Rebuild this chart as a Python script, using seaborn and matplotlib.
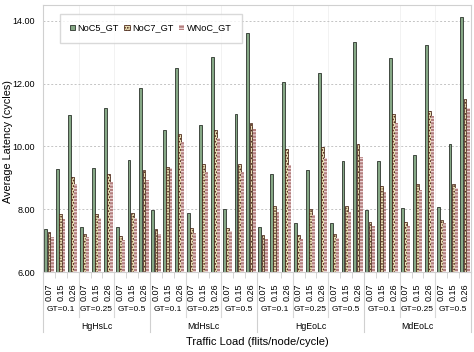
import matplotlib.pyplot as plt
import numpy as np
import pandas as pd
import seaborn as sns

# Categories (pattern -> GT -> load)
series = ["NoC5_GT", "NoC7_GT", "WNoC_GT"]
patterns = ["HgHsLc", "MdHsLc", "HgEoLc", "MdEoLc"]
gt_levels = ["GT=0.1", "GT=0.25", "GT=0.5"]
loads = ["0.07", "0.15", "0.26"]

# Average latency (cycles)
noc5 = [7.36, 9.28, 10.99, 7.42, 9.30, 11.23, 7.43, 9.55, 11.86,
        7.97, 10.51, 12.50, 7.87, 10.67, 12.86, 8.00, 11.04, 13.61,
        7.43, 9.13, 12.04, 7.55, 9.26, 12.35, 7.57, 9.54, 13.32,
        7.97, 9.54, 12.81, 8.03, 9.74, 13.24, 8.06, 10.07, 14.11]
noc7 = [7.26, 7.86, 9.04, 7.22, 7.86, 9.12, 7.14, 7.88, 9.24,
        7.36, 9.35, 10.38, 7.39, 9.45, 10.53, 7.39, 9.45, 10.75,
        7.17, 8.10, 9.90, 7.17, 7.99, 9.99, 7.20, 8.09, 10.08,
        7.60, 8.75, 11.04, 7.58, 8.79, 11.12, 7.65, 8.79, 11.50]
wnoc = [7.11, 7.68, 8.79, 7.10, 7.71, 8.85, 7.01, 7.72, 8.93,
        7.21, 9.31, 10.15, 7.23, 9.18, 10.28, 7.30, 9.18, 10.55,
        7.06, 7.90, 9.42, 7.06, 7.82, 9.63, 7.09, 7.90, 9.65,
        7.47, 8.56, 10.73, 7.46, 8.61, 10.97, 7.55, 8.67, 11.23]

cats = [f"{p}|{g}|{l}" for p in patterns for g in gt_levels for l in loads]
df = pd.DataFrame({
    "cat": cats * 3,
    "series": np.repeat(series, len(cats)),
    "latency": noc5 + noc7 + wnoc,
})

plt.rcParams["font.family"] = ["Liberation Sans", "DejaVu Sans"]
plt.rcParams["hatch.linewidth"] = 0.8

fig = plt.figure(figsize=(4.74, 3.52), dpi=100)
ax = fig.add_axes([43 / 474, 1 - 272 / 352, 428 / 474, 267 / 352])

sns.barplot(data=df, x="cat", y="latency", hue="series", order=cats,
            hue_order=series, errorbar=None, width=0.8, gap=0.12,
            legend=False, ax=ax)

styles = [
    dict(facecolor="#86a886", edgecolor="#2c332c", linewidth=0.6, hatch=None),
    dict(facecolor="#eadfb4", edgecolor="#3b1508", linewidth=0.5, hatch="......"),
    dict(facecolor="#b47f7f", edgecolor="#f0dede", linewidth=0.0, hatch="-----"),
]
for cont, st in zip(ax.containers, styles):
    for bar in cont:
        bar.set(**st)

ax.set_ylim(6, 14.5)
ax.set_xlim(-0.5, len(cats) - 0.5)
ax.set_yticks([6, 8, 10, 12, 14])
ax.set_yticklabels([f"{v:.2f}" for v in [6, 8, 10, 12, 14]], fontsize=6.5)
ax.tick_params(axis="y", length=0, pad=6)
ax.yaxis.grid(True, linestyle=(0, (2, 2)), color="#c4c4c4", linewidth=0.7)
ax.set_axisbelow(True)

for s in ax.spines.values():
    s.set_color("#d0d0d0")
    s.set_linewidth(0.8)

ax.set_xticks(range(len(cats)))
ax.set_xticklabels(loads * (len(cats) // 3), rotation=90, fontsize=6.5)
ax.tick_params(axis="x", which="major", length=0, pad=8)
ax.set_xticks(np.arange(-0.5, len(cats), 1), minor=True)
ax.tick_params(axis="x", which="minor", length=4, color="#d0d0d0")

trans = ax.get_xaxis_transform()
for i in range(len(cats) // 3 + 1):
    x = 3 * i - 0.5
    if i % 3 == 0:
        ax.plot([x, x], [0, -0.225], transform=trans, clip_on=False,
                color="#d0d0d0", linewidth=0.8)
    else:
        ax.plot([x, x], [0, -0.17], transform=trans, clip_on=False,
                color="#d8d8d8", linewidth=0.8)
        ax.plot([x, x], [0, 1], transform=trans, color="#f0f0f0",
                linewidth=0.6, zorder=0)

for gi, g in enumerate(gt_levels * len(patterns)):
    ax.text(3 * gi + 1, -0.142, g, transform=trans, ha="center", va="center",
            fontsize=6.0)
for pi, p in enumerate(patterns):
    ax.text(9 * pi + 4, -0.203, p, transform=trans, ha="center", va="center",
            fontsize=6.3)

ax.set_xlabel("Traffic Load (flits/node/cycle)", fontsize=8)
ax.xaxis.set_label_coords(0.5, -0.245)
ax.set_ylabel("Average Latency (cycles)", fontsize=7.8)
ax.yaxis.set_label_coords(-0.07, 0.49)

ax.legend(ax.containers, series, loc="upper left", ncol=3,
          bbox_to_anchor=(0.028, 0.985), fontsize=6.6, frameon=True,
          fancybox=False, edgecolor="#d0d0d0", handlelength=0.6,
          handleheight=0.6, handletextpad=0.25, columnspacing=0.6,
          borderpad=1.1)

fig.savefig("out.png", dpi=100)
